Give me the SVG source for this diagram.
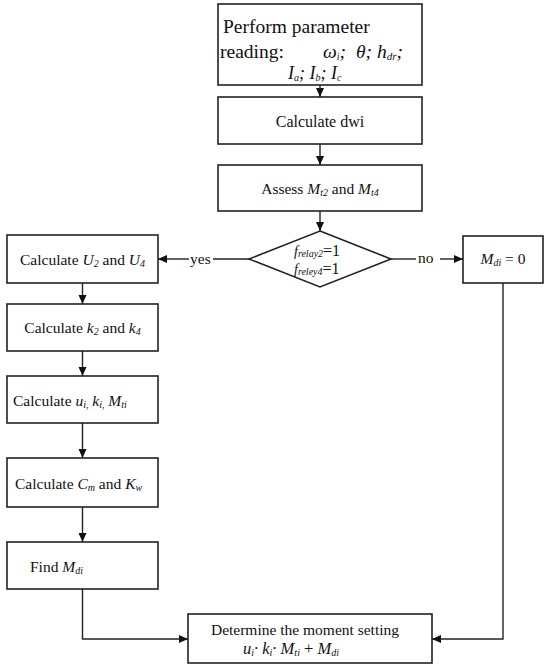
<svg xmlns="http://www.w3.org/2000/svg" width="550" height="668" viewBox="0 0 550 668">
<defs>
<marker id="arr" markerWidth="10" markerHeight="10" refX="9" refY="5" orient="auto" markerUnits="userSpaceOnUse">
<path d="M0,1 L9,5 L0,9 Z" fill="#111"/>
</marker>
<style>
.box{fill:#fff;stroke:#222;stroke-width:1.6}
.ln{fill:none;stroke:#222;stroke-width:1.4}
.t{font-family:"Liberation Serif","Times New Roman",serif;font-size:15.5px;fill:#111}
.i{font-style:italic}
.s{font-size:10px}
</style>
</defs>
<rect width="550" height="668" fill="#fff"/>
<g id="connectors">
<line class="ln" x1="320" y1="85" x2="320" y2="97" marker-end="url(#arr)"/>
<line class="ln" x1="320" y1="144" x2="320" y2="165" marker-end="url(#arr)"/>
<line class="ln" x1="320" y1="211" x2="320" y2="231" marker-end="url(#arr)"/>
<line class="ln" x1="249" y1="259" x2="213" y2="259"/>
<line class="ln" x1="189" y1="259" x2="158" y2="259" marker-end="url(#arr)"/>
<text class="t" x="190" y="264">yes</text>
<line class="ln" x1="391" y1="259" x2="416" y2="259"/>
<text class="t" x="418" y="263">no</text>
<line class="ln" x1="440" y1="259" x2="463" y2="259" marker-end="url(#arr)"/>
<line class="ln" x1="82.5" y1="283" x2="82.5" y2="304" marker-end="url(#arr)"/>
<line class="ln" x1="82.5" y1="351" x2="82.5" y2="376" marker-end="url(#arr)"/>
<line class="ln" x1="82.5" y1="423" x2="82.5" y2="458" marker-end="url(#arr)"/>
<line class="ln" x1="82.5" y1="507" x2="82.5" y2="542" marker-end="url(#arr)"/>
<polyline class="ln" points="82.5,589 82.5,639 188,639" marker-end="url(#arr)"/>
<polyline class="ln" points="503,283 503,639 432,639" marker-end="url(#arr)"/>
</g>
<g id="n_read">
<rect class="box" x="218" y="4" width="204" height="81"/>
<text class="t" x="223" y="33" style="font-size:19.5px">Perform parameter</text>
<text class="t" x="220" y="58" style="font-size:19.5px">reading:</text>
<text class="t i" x="323" y="58" style="font-size:19.5px">ω<tspan class="s" dy="2">i</tspan><tspan dy="-2">;</tspan><tspan x="356">θ;</tspan><tspan x="377">h</tspan><tspan class="s" dy="2" style="font-size:11px">dr</tspan><tspan dy="-2">;</tspan></text>
<text class="t i" x="288" y="79" style="font-size:18px">I<tspan class="s" dy="2">a</tspan><tspan dy="-2">; I</tspan><tspan class="s" dy="2">b</tspan><tspan dy="-2">; I</tspan><tspan class="s" dy="2">c</tspan></text>
</g>
<g id="n_dwi">
<rect class="box" x="218" y="97" width="204" height="47"/>
<text class="t" x="320" y="127" text-anchor="middle" style="font-size:16px">Calculate dwi</text>
</g>
<g id="n_assess">
<rect class="box" x="218" y="165" width="204" height="46"/>
<text class="t" x="320" y="194" text-anchor="middle">Assess <tspan class="i">M</tspan><tspan class="s i" dy="2">t2</tspan><tspan dy="-2"> and </tspan><tspan class="i">M</tspan><tspan class="s i" dy="2">t4</tspan></text>
</g>
<g id="n_decision">
<polygon class="box" points="320,231 391,259 320,287 249,259"/>
<text class="t i" x="294" y="256" style="font-size:14px">f<tspan class="s" dy="1">relay2</tspan><tspan dy="-1" style="font-style:normal;font-size:16px">=1</tspan></text>
<text class="t i" x="294" y="274" style="font-size:14px">f<tspan class="s" dy="1">reley4</tspan><tspan dy="-1" style="font-style:normal;font-size:16px">=1</tspan></text>
</g>
<g id="n_mdi0">
<rect class="box" x="463" y="236" width="80" height="47"/>
<text class="t" x="503" y="264" text-anchor="middle"><tspan class="i">M</tspan><tspan class="s i" dy="2">di</tspan><tspan dy="-2"> = 0</tspan></text>
</g>
<g id="n_U">
<rect class="box" x="7" y="235" width="151" height="48"/>
<text class="t" x="82.5" y="265" text-anchor="middle">Calculate <tspan class="i">U</tspan><tspan class="s i" dy="2">2</tspan><tspan dy="-2"> and </tspan><tspan class="i">U</tspan><tspan class="s i" dy="2">4</tspan></text>
</g>
<g id="n_k">
<rect class="box" x="7" y="304" width="151" height="47"/>
<text class="t" x="82.5" y="333" text-anchor="middle">Calculate <tspan class="i">k</tspan><tspan class="s i" dy="2">2</tspan><tspan dy="-2"> and </tspan><tspan class="i">k</tspan><tspan class="s i" dy="2">4</tspan></text>
</g>
<g id="n_u">
<rect class="box" x="7" y="376" width="151" height="47"/>
<text class="t" x="13" y="406">Calculate <tspan class="i">u</tspan><tspan class="s i" dy="2">i,</tspan><tspan class="i" dy="-2"> k</tspan><tspan class="s i" dy="2">i,</tspan><tspan class="i" dy="-2"> M</tspan><tspan class="s i" dy="2">ti</tspan></text>
</g>
<g id="n_C">
<rect class="box" x="7" y="458" width="151" height="49"/>
<text class="t" x="15" y="489">Calculate <tspan class="i">C</tspan><tspan class="s i" dy="2">m</tspan><tspan dy="-2"> and </tspan><tspan class="i">K</tspan><tspan class="s i" dy="2">w</tspan></text>
</g>
<g id="n_find">
<rect class="box" x="7" y="542" width="151" height="47"/>
<text class="t" x="30" y="572">Find <tspan class="i">M</tspan><tspan class="s i" dy="2">di</tspan></text>
</g>
<g id="n_det">
<rect class="box" x="188" y="614" width="244" height="49"/>
<text class="t" x="305" y="635" text-anchor="middle">Determine the moment setting</text>
<text class="t i" x="291" y="654" text-anchor="middle" style="font-size:16.5px">u<tspan class="s" dy="2">i</tspan><tspan dy="-2">·  k</tspan><tspan class="s" dy="2">i</tspan><tspan dy="-2">·  M</tspan><tspan class="s" dy="2">ti</tspan><tspan dy="-2" style="font-style:normal"> + </tspan><tspan>M</tspan><tspan class="s" dy="2">di</tspan></text>
</g>
</svg>
